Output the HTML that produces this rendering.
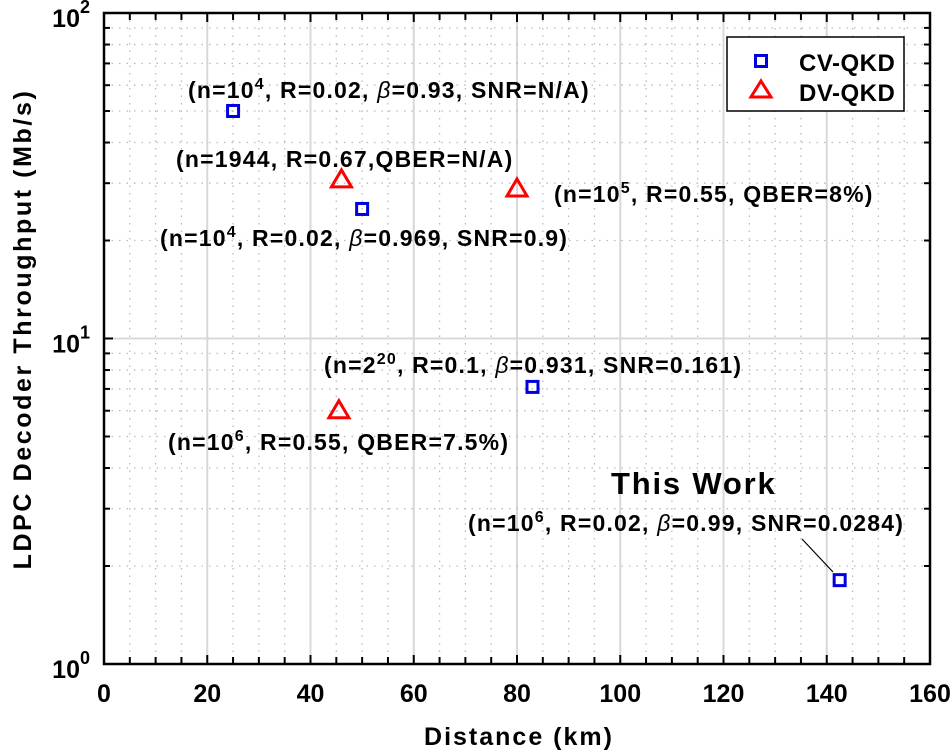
<!DOCTYPE html>
<html><head><meta charset="utf-8"><style>
body{margin:0;background:#fff;}
svg{display:block;font-family:"Liberation Sans",sans-serif;font-weight:bold;}
</style></head><body>
<svg id="c" width="950" height="753" viewBox="0 0 950 753">
<g id="grid"></g>
<g id="axes"></g>
<g id="ann" font-size="23" letter-spacing="1.2" fill="#000">
<text x="188" y="98">(n=10<tspan dy="-9" font-size="16">4</tspan><tspan dy="9">, R=0.02, </tspan><tspan font-style="italic" font-weight="normal">β</tspan>=0.93, SNR=N/A)</text>
<text x="176" y="167">(n=1944, R=0.67,QBER=N/A)</text>
<text x="554" y="202">(n=10<tspan dy="-9" font-size="16">5</tspan><tspan dy="9">, R=0.55, QBER=8%)</tspan></text>
<text x="160" y="246">(n=10<tspan dy="-9" font-size="16">4</tspan><tspan dy="9">, R=0.02, </tspan><tspan font-style="italic" font-weight="normal">β</tspan>=0.969, SNR=0.9)</text>
<text x="324" y="373">(n=2<tspan dy="-9" font-size="16">20</tspan><tspan dy="9">, R=0.1, </tspan><tspan font-style="italic" font-weight="normal">β</tspan>=0.931, SNR=0.161)</text>
<text x="168" y="450">(n=10<tspan dy="-9" font-size="16">6</tspan><tspan dy="9">, R=0.55, QBER=7.5%)</tspan></text>
<text x="611" y="494" font-size="31" letter-spacing="1.8">This Work</text>
<text x="468" y="531">(n=10<tspan dy="-9" font-size="16">6</tspan><tspan dy="9">, R=0.02, </tspan><tspan font-style="italic" font-weight="normal">β</tspan>=0.99, SNR=0.0284)</text>
<line x1="802" y1="539" x2="833" y2="572" stroke="#000" stroke-width="1.2"/>
</g>
<g id="marks"></g>
<g>
<rect x="727" y="37" width="177" height="74" fill="#fff" stroke="#000" stroke-width="1.5"/>
<rect x="755.5" y="55.5" width="11" height="11" fill="none" stroke="#0000e0" stroke-width="3"/>
<text x="799" y="71" font-size="24" letter-spacing="0.5">CV-QKD</text>
<polygon points="761,81 771,97 751,97" fill="none" stroke="#f00" stroke-width="3"/>
<text x="799" y="101" font-size="24" letter-spacing="0.5">DV-QKD</text>
</g>
<text x="519" y="745" font-size="25" letter-spacing="2" text-anchor="middle">Distance (km)</text>
<text transform="translate(31,329) rotate(-90)" font-size="25" letter-spacing="2.6" text-anchor="middle">LDPC Decoder Throughput (Mb/s)</text>
</svg>
<script>
const cvX=[25,50,83,142.5];
const cvY=[50,25,7.1,1.81];
const dvX=[46,80,45.5];
const dvY=[30.7,28.8,6];
const xTicks=[0,20,40,60,80,100,120,140,160];
const yTickExp=[0,1,2];
const L=104,R=930,T=13,B=664;
const sx=v=>L+(v-0)/(160-0)*(R-L);
const sy=v=>B-(Math.log10(v)-0)/2*(B-T);
const NS="http://www.w3.org/2000/svg";
function mk(t,a,p){const e=document.createElementNS(NS,t);for(const k in a)e.setAttribute(k,a[k]);p.appendChild(e);return e;}
const grid=document.getElementById('grid'),axes=document.getElementById('axes'),marks=document.getElementById('marks');
for(let v=5;v<160;v+=5){const x=sx(v);const major=v%20===0;
const g=mk('line',{x1:x,x2:x,y1:T,y2:B,stroke:major?'#d8d8d8':'#bbb','stroke-width':major?2:1.3,'stroke-dasharray':major?'':'1.5 6'},grid);
}
for(let d=0;d<2;d++)for(let m=1;m<=10;m++){if(m===1&&d===0)continue;const v=m*Math.pow(10,d);if(v>=100)continue;const y=sy(v);const major=m===1||m===10;
const g=mk('line',{x1:L,x2:R,y1:y,y2:y,stroke:major?'#d8d8d8':'#bbb','stroke-width':major?2:1.3,'stroke-dasharray':major?'':'1.5 6'},grid);

const tk=mk('line',{x1:L,x2:L+(major?9:6),y1:y,y2:y,stroke:'#000','stroke-width':2},axes);

const tk2=mk('line',{x1:R,x2:R-(major?9:6),y1:y,y2:y,stroke:'#000','stroke-width':2},axes);
}
const box=mk('rect',{x:L,y:T,width:R-L,height:B-T,fill:'none',stroke:'#000','stroke-width':2.5},axes);

for(let v=5;v<160;v+=5){const x=sx(v);const h=v%20===0?9:7;
const a=mk('line',{x1:x,x2:x,y1:B,y2:B-h,stroke:'#000','stroke-width':2},axes);

const b=mk('line',{x1:x,x2:x,y1:T,y2:T+h,stroke:'#000','stroke-width':2},axes);
}
xTicks.forEach(v=>{const t=mk('text',{x:sx(v),y:702,'font-size':25,'text-anchor':'middle'},axes);t.textContent=v;
});
yTickExp.forEach(e=>{const t=mk('text',{x:90,y:sy(Math.pow(10,e))+14,'font-size':25,'text-anchor':'end'},axes);
t.textContent='10';const s=mk('tspan',{dy:-14,'font-size':18},t);s.textContent=e;
});
cvX.forEach((v,i)=>{const x=sx(v),y=sy(cvY[i]);
const r=mk('rect',{x:x-5.5,y:y-5.5,width:11,height:11,fill:'none',stroke:'#0000e0','stroke-width':3},marks);
});
dvX.forEach((v,i)=>{const x=sx(v),y=sy(dvY[i]);
const p=mk('polygon',{points:`${x},${y-10} ${x+10},${y+7} ${x-10},${y+7}`,fill:'none',stroke:'#f00','stroke-width':3},marks);
});
</script>
</body></html>
